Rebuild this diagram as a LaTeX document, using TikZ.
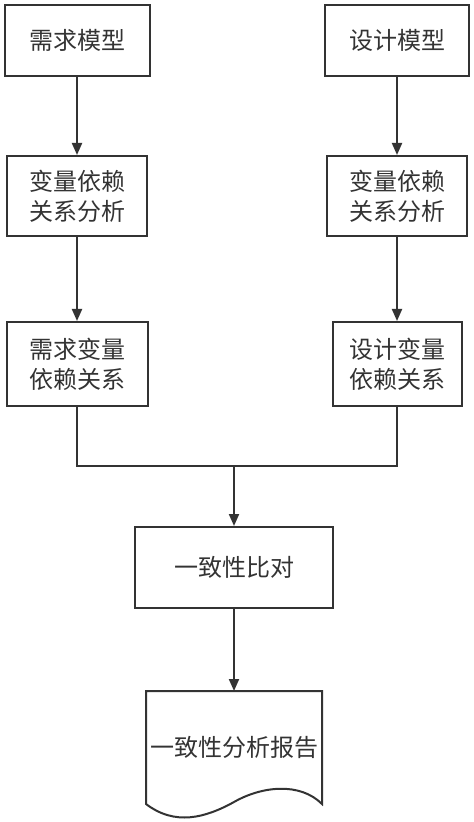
\documentclass[tikz,border=0pt]{standalone}
\usepackage{fontspec}
\setmainfont{Noto Sans CJK SC}
\usetikzlibrary{arrows.meta}
\definecolor{ink}{HTML}{333333}
\begin{document}
\begin{tikzpicture}[x=0.5pt,y=-0.5pt,
    box/.style={rectangle,draw=ink,line width=1pt,text=ink,font=\fontsize{12pt}{15pt}\selectfont,align=center,inner sep=0pt},
    flow/.style={draw=ink,line width=1pt,-{Triangle[length=6pt,width=5pt]}}]
    \useasboundingbox (0,0) rectangle (474,822);
    % top row
    \node [box,minimum width=72.5pt,minimum height=35.5pt] (reqm) at (77,40.5) {需求模型};
    \node [box,minimum width=72pt,minimum height=35.5pt] (desm) at (397,40.5) {设计模型};
    % analysis
    \node [box,minimum width=70pt,minimum height=40pt] (reqa) at (77,196) {变量依赖\\关系分析};
    \node [box,minimum width=70pt,minimum height=40pt] (desa) at (397,196) {变量依赖\\关系分析};
    % dependencies
    \node [box,minimum width=70.5pt,minimum height=42pt] (reqv) at (77,364) {需求变量\\依赖关系};
    \node [box,minimum width=64.5pt,minimum height=42pt] (desv) at (397.5,364) {设计变量\\依赖关系};
    % comparison and report
    \node [box,minimum width=99pt,minimum height=40.5pt] (cmp) at (234,567.5) {一致性比对};
    \node [box,draw=none,minimum width=87pt,minimum height=55.5pt] (rep) at (234,747.5) {一致性分析报告};
    \draw [ink,line width=1pt] (rep.south west) -- (rep.north west) -- (rep.north east) -- (rep.south east)
        .. controls (300,782) and (262,786) .. (234,802)
        .. controls (205,818) and (175,826) .. (rep.south west) -- cycle;
    \coordinate (merge) at (234,466);
    \draw [flow] (reqm) -- (reqa);
    \draw [flow] (desm) -- (desa);
    \draw [flow] (reqa) -- (reqv);
    \draw [flow] (desa.south) -- (desa.south |- desv.north);
    \draw [ink,line width=1pt] (reqv.south) |- (merge) -| (desv.south -| desa.south);
    \draw [flow] (merge) -- (cmp);
    \draw [flow] (cmp) -- (rep);
\end{tikzpicture}
\end{document}
